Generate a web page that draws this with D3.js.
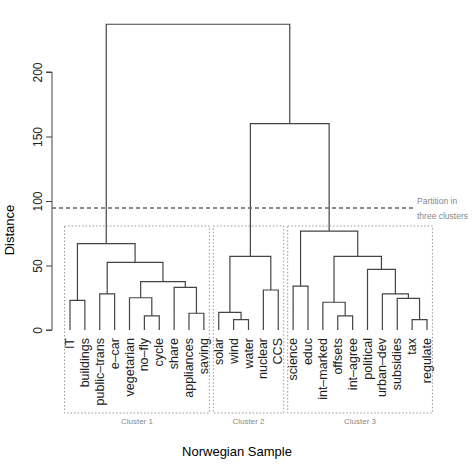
<!DOCTYPE html>
<html><head><meta charset="utf-8">
<script src="https://cdn.jsdelivr.net/npm/d3@7"></script>
<style>body{margin:0;background:#fff}</style></head>
<body><svg id="chart" width="474" height="474"></svg>
<script>
// leaves in dendrogram order
const leaves = ['IT', 'buildings', 'public\u2013trans', 'e\u2013car', 'vegetarian', 'no\u2013fly', 'cycle', 'share',
  'appliances', 'saving', 'solar', 'wind', 'water', 'nuclear', 'CCS', 'science', 'educ',
  'int\u2013marked', 'offsets', 'int\u2013agree', 'political', 'urban\u2013dev', 'subsidies', 'tax', 'regulate'];
// merges like R: negative = leaf index (1-based), positive = earlier merge (1-based)
const merges = [
  [-1, -2, 23], [-3, -4, 28], [-6, -7, 11], [-5, 3, 25], [-9, -10, 13], [-8, 5, 33],
  [4, 6, 37.5], [2, 7, 52.5], [1, 8, 67],
  [-12, -13, 8], [-11, 10, 13.7], [-14, -15, 31], [11, 12, 57],
  [-16, -17, 34], [-19, -20, 11], [-18, 15, 21.5], [-24, -25, 8], [-23, 17, 24.5],
  [-22, 18, 28], [-21, 19, 47], [16, 20, 57], [14, 21, 76.7],
  [13, 22, 160], [9, 23, 237]
];
const yTicks = [0, 50, 100, 150, 200];
const partition = 94.5;
const clusters = [
  {name: 'Cluster 1', from: 0, to: 9},
  {name: 'Cluster 2', from: 10, to: 14},
  {name: 'Cluster 3', from: 15, to: 24}
];

const svg = d3.select('#chart');
const x = d3.scalePoint().domain(d3.range(leaves.length)).range([70, 427]);
const y = d3.scaleLinear().domain([0, 200]).range([330, 72]);
const col = '#444';
const font = 'Liberation Sans, Arial, sans-serif';

const nodes = [];
merges.forEach(([a, b, h]) => {
  const get = (i) => i < 0 ? {x: x(-i - 1), h: 0} : nodes[i - 1];
  const l = get(a), r = get(b);
  nodes.push({x: (l.x + r.x) / 2, h: h});
  svg.append('path')
    .attr('d', `M${l.x},${y(l.h)}V${y(h)}H${r.x}V${y(r.h)}`)
    .attr('fill', 'none').attr('stroke', col).attr('stroke-width', 1.2);
});

// leaf labels
svg.selectAll('text.leaf').data(leaves).enter().append('text')
  .attr('transform', (d, i) => `translate(${x(i) + 4},338) rotate(-90)`)
  .attr('text-anchor', 'end')
  .attr('font-family', font)
  .attr('font-size', 12.5).attr('fill', '#222')
  .text(d => d);

// y axis
const ax = svg.append('g').attr('transform', 'translate(52,0)')
  .call(d3.axisLeft(y).tickValues(yTicks).tickSize(6).tickPadding(4));
ax.select('.domain').attr('d', `M-6,${y(0)}H0V${y(200)}H-6`).attr('stroke', col);
ax.selectAll('line').attr('stroke', col);
ax.selectAll('text').attr('font-size', 12).attr('font-family', font)
  .attr('fill', '#222').attr('text-anchor', 'middle')
  .attr('transform', 'translate(-10,0) rotate(-90)')
  .attr('x', 0).attr('dy', 0);

svg.append('text').attr('transform', 'translate(14,230) rotate(-90)')
  .attr('text-anchor', 'middle').attr('font-size', 13)
  .attr('font-family', font).text('Distance');
svg.append('text').attr('x', 237).attr('y', 456)
  .attr('text-anchor', 'middle').attr('font-size', 13)
  .attr('font-family', font).text('Norwegian Sample');

// partition
svg.append('line').attr('x1', 52).attr('x2', 414)
  .attr('y1', y(partition)).attr('y2', y(partition))
  .attr('stroke', '#666').attr('stroke-width', 1.5).attr('stroke-dasharray', '4,3');
svg.append('text').attr('x', 417).attr('y', y(partition) - 4)
  .attr('font-size', 8.5).attr('fill', '#888').attr('font-family', font)
  .text('Partition in');
svg.append('text').attr('x', 417).attr('y', y(partition) + 11)
  .attr('font-size', 8.5).attr('fill', '#888').attr('font-family', font)
  .text('three clusters');

// cluster boxes
const half = (x(1) - x(0)) / 2;
clusters.forEach(c => {
  const x0 = x(c.from) - half + 2, x1 = x(c.to) + half - 2;
  svg.append('rect').attr('x', x0).attr('y', 226).attr('width', x1 - x0).attr('height', 187)
    .attr('fill', 'none').attr('stroke', '#999').attr('stroke-dasharray', '1.5,2');
  svg.append('text').attr('x', (x0 + x1) / 2).attr('y', 424).attr('text-anchor', 'middle')
    .attr('font-size', 8).attr('fill', '#888').attr('font-family', font)
    .text(c.name);
});
</script></body></html>
